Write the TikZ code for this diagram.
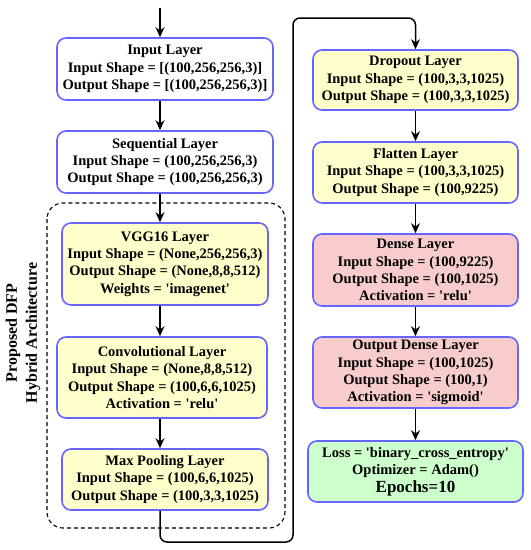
\documentclass[tikz,border=0pt]{standalone}
\usepackage{fontspec}
\setmainfont{Liberation Serif}
\usetikzlibrary{arrows.meta}
\definecolor{bord}{RGB}{102,102,255}
\definecolor{yfill}{RGB}{255,255,204}
\definecolor{pfill}{RGB}{248,204,204}
\definecolor{gfill}{RGB}{204,255,204}
\newcommand{\q}{\textquotesingle}
\tikzset{
  box/.style={draw=bord, line width=1.6pt, rounded corners=9pt, align=center,
    font=\fontsize{14.5}{17.3}\selectfont\bfseries, inner sep=0pt},
  wbox/.style={box, fill=white},
  ybox/.style={box, fill=yfill},
  pbox/.style={box, fill=pfill},
  gbox/.style={box, fill=gfill},
  arr/.style={line width=1.5pt, -{Stealth[length=10pt,width=9pt]}},
}
\begin{document}
\begin{tikzpicture}[x=1pt,y=-1pt]
\useasboundingbox (0,0) rectangle (531,550);
% dashed group
\draw[line width=1.1pt, dash pattern=on 4pt off 3pt, rounded corners=16pt] (47,203) rectangle (285,528);
\node[font=\fontsize{16}{20}\selectfont\bfseries, rotate=90, align=center] (lbl) at (23,333) {Proposed DFP\\Hybrid Architecture};
% left column
\coordinate (ax) at (160,0);
\coordinate (top) at (160,8);
\node[wbox, minimum width=216pt, minimum height=62pt] (in) at (165,69) {Input Layer\\Input Shape = [(100,256,256,3)]\\Output Shape = [(100,256,256,3)]};
\node[wbox, minimum width=216pt, minimum height=62pt] (seq) at (165,162) {Sequential Layer\\Input Shape = (100,256,256,3)\\Output Shape = (100,256,256,3)};
\node[ybox, minimum width=206pt, minimum height=82pt] (vgg) at (165,264) {VGG16 Layer\\Input Shape = (None,256,256,3)\\Output Shape = (None,8,8,512)\\Weights = \q imagenet\q};
\node[ybox, minimum width=210pt, minimum height=81pt] (conv) at (162,377.5) {Convolutional Layer\\Input Shape = (None,8,8,512)\\Output Shape = (100,6,6,1025)\\Activation = \q relu\q};
\node[ybox, minimum width=206pt, minimum height=61pt] (mp) at (165,479.5) {Max Pooling Layer\\Input Shape = (100,6,6,1025)\\Output Shape = (100,3,3,1025)};
% right column
\node[ybox, minimum width=205pt, minimum height=60pt] (drop) at (415.5,80) {Dropout Layer\\Input Shape = (100,3,3,1025)\\Output Shape = (100,3,3,1025)};
\node[ybox, minimum width=205pt, minimum height=61pt] (flat) at (415.5,172.5) {Flatten Layer\\Input Shape = (100,3,3,1025)\\Output Shape = (100,9225)};
\node[pbox, minimum width=205pt, minimum height=72pt] (dense) at (415.5,270) {Dense Layer\\Input Shape = (100,9225)\\Output Shape = (100,1025)\\Activation = \q relu\q};
\node[pbox, minimum width=205pt, minimum height=71pt] (odense) at (415.5,372.5) {Output Dense Layer\\Input Shape = (100,1025)\\Output Shape = (100,1)\\Activation = \q sigmoid\q};
\node[gbox, minimum width=215pt, minimum height=61pt] (loss) at (415.5,471.5) {Loss = \q binary\_cross\_entropy\q\\Optimizer = Adam()\\{\fontsize{17}{20}\selectfont Epochs=10}};
% arrows
\draw[arr] (top) -- (in.north -| ax);
\draw[arr] (in.south -| ax) -- (seq.north -| ax);
\draw[arr] (seq.south -| ax) -- (vgg.north -| ax);
\draw[arr] (vgg.south -| ax) -- (conv.north -| ax);
\draw[arr] (conv.south -| ax) -- (mp.north -| ax);
\coordinate (c1) at (160,542);
\coordinate (c2) at (293,542);
\coordinate (c3) at (293,18);
\coordinate (c4) at (415.5,18);
\draw[arr, rounded corners=7pt] (mp.south -| ax) -- (c1) -- (c2) -- (c3) -- (c4) -- (drop.north);
\draw[arr] (drop) -- (flat);
\draw[arr] (flat) -- (dense);
\draw[arr] (dense) -- (odense);
\draw[arr] (odense) -- (loss);
\end{tikzpicture}
\end{document}
